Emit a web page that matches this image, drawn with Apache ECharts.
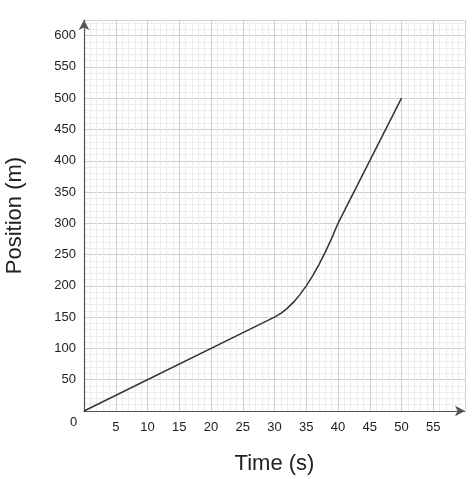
<!DOCTYPE html><html><head><meta charset="utf-8"><script src="https://cdn.jsdelivr.net/npm/echarts@6/dist/echarts.min.js"></script>
<style>html,body{margin:0;background:#fff}#c{width:474px;height:479px}</style></head><body><div id="c"></div><script>
const times=[0,30,31,32,33,34,35,36,37,38,39,40,50];
const positions=[0,150,156,164,174,186,200,216,234,254,276,300,500];
const xTicks=[0,5,10,15,20,25,30,35,40,45,50,55];
const yTicks=[50,100,150,200,250,300,350,400,450,500,550,600];
const ch=echarts.init(document.getElementById('c'));
const F='Arial, Liberation Sans, sans-serif';
ch.setOption({
 animation:false,
 grid:{left:84,right:9,top:20,bottom:68,containLabel:false,outerBoundsMode:'none'},
 xAxis:{type:'value',min:0,max:60,interval:5,
  name:'Time (s)',nameLocation:'middle',nameGap:42,nameTextStyle:{fontSize:22,color:'#222',fontFamily:F},
  axisLine:{symbol:['none','arrow'],symbolSize:[8,10],lineStyle:{color:'#555',width:1.2}},
  axisTick:{show:false},
  axisLabel:{color:'#222',fontSize:13,fontFamily:F,margin:10,formatter:v=>(xTicks.includes(v)&&v!==0)?String(v):''},
  splitLine:{lineStyle:{color:'#cfcfcf',width:1}},
  minorTick:{show:false,splitNumber:5},minorSplitLine:{show:true,lineStyle:{color:'#ececec',width:1}}},
 yAxis:{type:'value',min:0,max:625,interval:50,
  name:'Position (m)',nameLocation:'middle',nameGap:58,nameTextStyle:{fontSize:22,color:'#222',fontFamily:F},
  axisLine:{show:true,symbol:['none','arrow'],symbolSize:[8,10],lineStyle:{color:'#555',width:1.2}},
  axisTick:{show:false},
  axisLabel:{color:'#222',fontSize:13,fontFamily:F,margin:8,formatter:v=>yTicks.includes(v)?String(v):''},
  splitLine:{lineStyle:{color:'#cfcfcf',width:1}},
  minorTick:{show:false,splitNumber:5},minorSplitLine:{show:true,lineStyle:{color:'#ececec',width:1}}},
 graphic:[{type:'text',left:70,top:416,style:{text:'0',fontSize:13,fill:'#222',fontFamily:F}}],
 series:[{type:'line',data:times.map((t,i)=>[t,positions[i]]),smooth:false,symbol:'none',
  lineStyle:{color:'#333',width:1.5}}]
});
</script></body></html>
